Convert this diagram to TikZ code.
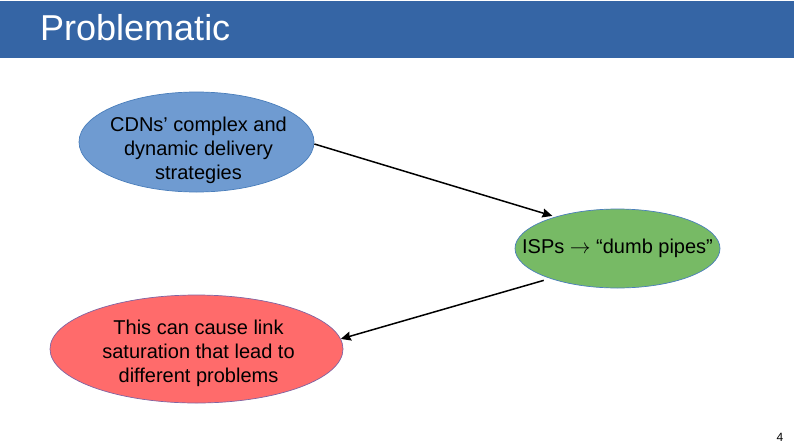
\documentclass[tikz,border=0pt]{standalone}
\usepackage{fontspec}
\usetikzlibrary{shapes.geometric, arrows.meta}
\setmainfont{Liberation Sans}
\definecolor{clbar}{HTML}{3565A5}
\definecolor{clcdn}{HTML}{6F9BD1}
\definecolor{clcdnb}{HTML}{4A7EBB}
\definecolor{clisp}{HTML}{77BA65}
\definecolor{clispb}{HTML}{4A7EBB}
\definecolor{clsat}{HTML}{FF6B6B}
\definecolor{clsatb}{HTML}{8064A2}
\begin{document}
\begin{tikzpicture}[x=1pt, y=-1pt]
        \tikzstyle{blob} = [ellipse, draw, line width=.7pt, inner sep=0pt]
        \tikzstyle{lbl} = [align=center, inner sep=0pt, font=\fontsize{20}{24}\selectfont]
        \tikzstyle{link} = [-{Stealth[length=10pt,width=9pt,inset=1pt]}, line width=1.5pt, black]
    \useasboundingbox (0,0) rectangle (794,447);
    \fill[clbar] (0,1) rectangle (794,58);
    \node[anchor=base west, inner sep=0pt, text=white, font=\fontsize{36}{40}\selectfont] (title) at (40,40) {Problematic};

    \node[blob, fill=clcdn, draw=clcdnb, minimum width=235pt, minimum height=100pt] (cdn) at (196.5,142) {};
    \node[lbl, xshift=2pt, yshift=-8pt] (cdntxt) at (cdn.center) {CDNs’ complex and\\dynamic delivery\\strategies};

    \node[blob, fill=clisp, draw=clispb, minimum width=205pt, minimum height=79pt] (isp) at (617.5,248.5) {};
    \node[lbl] (isptxt) at (isp.center) {ISPs $\rightarrow$ “dumb pipes”};

    \node[blob, fill=clsat, draw=clsatb, minimum width=293pt, minimum height=108pt] (sat) at (196.5,349) {};
    \node[lbl, xshift=2pt, yshift=-4.5pt] (sattxt) at (sat.center) {This can cause link\\saturation that lead to\\different problems};

    \draw[link, shorten >=3pt] (cdn.east) ++(0,2) -- (isp.153);
    \draw[link, shorten <=6.5pt] (isp.204) -- (sat.4);

    \node[inner sep=0pt, font=\fontsize{12}{14}\selectfont] (num) at (780,437) {4};
\end{tikzpicture}
\end{document}
